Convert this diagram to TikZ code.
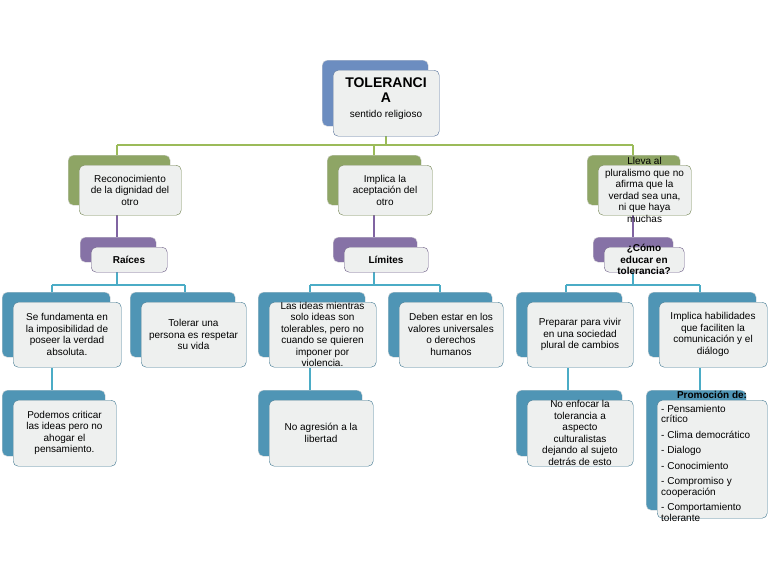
\documentclass[tikz,border=0pt]{standalone}
\usepackage{fontspec}
\setmainfont{Liberation Sans}
\begin{document}
\definecolor{gB}{HTML}{8EA565}
\definecolor{pB}{HTML}{8672A6}
\definecolor{tB}{HTML}{4F95B5}
\definecolor{rB}{HTML}{6C8DC0}
\definecolor{fr}{HTML}{EEF0EF}
\definecolor{lg}{HTML}{9BBB59}
\definecolor{lp}{HTML}{8064A2}
\definecolor{lt}{HTML}{4BACC6}
\newcommand\mybox[7]{%
 \node[back,fill=#6,minimum width=#4pt,minimum height=#5pt] (#1b) at (#2,#3) {};
 \node[front,draw=#6!80!black,minimum width=#4pt,minimum height=#5pt] (#1) at (#2+11,#3+10) {};
 \node[txt] (#1t) at (#2+11+#4/2,#3+10+#5/2) {#7};}
\begin{tikzpicture}[x=1pt,y=-1pt,
 back/.style={rounded corners=5pt,anchor=north west,draw=black!15,inner sep=0pt},
 front/.style={rounded corners=5pt,anchor=north west,fill=fr,inner sep=0pt},
 txt/.style={align=center,inner sep=0pt,font=\fontsize{10}{11.5}\selectfont},
 conn/.style={line width=1.5pt}]
\useasboundingbox[fill=white] (0,0) rectangle (768,576);
% connectors
\draw[conn,lg] (386,135) -- (386,145);
\draw[conn,lg] (117,145) -- (633,145);
\foreach \x in {117,374,633}{\draw[conn,lg] (\x,145) -- (\x,155);}
\draw[conn,lp] (117,215) -- (117,237);
\draw[conn,lp] (374,215) -- (374,237);
\draw[conn,lp] (633,215) -- (633,237);
\draw[conn,lt] (117,272) -- (117,285);
\draw[conn,lt] (374,272) -- (374,285);
\draw[conn,lt] (633,272) -- (633,285);
\draw[conn,lt] (52,285) -- (185,285);
\draw[conn,lt] (310,285) -- (440,285);
\draw[conn,lt] (566,285) -- (700,285);
\foreach \x in {52,185,310,440,566,700}{\draw[conn,lt] (\x,285) -- (\x,292);}
\foreach \x in {52,310,568,700}{\draw[conn,lt] (\x,368) -- (\x,390);}
% boxes
\mybox{root}{322}{60}{106}{66}{rB}{}
\node[txt,font=\fontsize{14}{14.5}\selectfont\bfseries] (roottitle) at (386,90) {TOLERANCI\\A};
\node[txt] (rootsub) at (386,115) {sentido religioso};
\mybox{ga}{68}{155}{102}{50}{gB}{Reconocimiento\\de la dignidad del\\otro}
\mybox{gb}{327}{155}{94}{50}{gB}{Implica la\\aceptación del\\otro}
\mybox{gc}{587}{155}{93}{50}{gB}{Lleva al\\pluralismo que no\\afirma que la\\verdad sea una,\\ni que haya\\muchas}
\mybox{pa}{80}{237}{76}{25}{pB}{\bfseries Raíces}
\mybox{pb}{333}{237}{84}{25}{pB}{\bfseries Límites}
\mybox{pc}{593}{237}{80}{25}{pB}{\bfseries ¿Cómo\\\bfseries educar en\\\bfseries tolerancia?}
\mybox{aa}{2}{292}{108}{65}{tB}{Se fundamenta en\\la imposibilidad de\\poseer la verdad\\absoluta.}
\mybox{ab}{130}{292}{105}{65}{tB}{Tolerar una\\persona es respetar\\su vida}
\mybox{ba}{258}{292}{107}{65}{tB}{Las ideas mientras\\solo ideas son\\tolerables, pero no\\cuando se quieren\\imponer por\\violencia.}
\mybox{bb}{388}{292}{104}{65}{tB}{Deben estar en los\\valores universales\\o derechos\\humanos}
\mybox{ca}{516}{292}{106}{65}{tB}{Preparar para vivir\\en una sociedad\\plural de cambios}
\mybox{cb}{648}{292}{108}{65}{tB}{Implica habilidades\\que faciliten la\\comunicación y el\\diálogo}
\mybox{ac}{2}{390}{103}{66}{tB}{Podemos criticar\\las ideas pero no\\ahogar el\\pensamiento.}
\mybox{bc}{258}{390}{104}{66}{tB}{No agresión a la\\libertad}
\mybox{cc}{516}{390}{106}{66}{tB}{No enfocar la\\tolerancia a\\aspecto\\culturalistas\\dejando al sujeto\\detrás de esto}
\node[back,fill=tB,minimum width=100pt,minimum height=120pt] (cdb) at (646,390) {};
\node[front,draw=tB!80!black,minimum width=110pt,minimum height=118pt] (cd) at (657,400) {};
\node[txt,font=\fontsize{10}{11}\selectfont\bfseries] (cdh) at (712,395) {Promoción de:};
\node[anchor=north west,align=left,inner sep=0pt,font=\fontsize{10}{10.5}\selectfont] (cdt) at (661,405) {- Pensamiento\\crítico\\[5pt]- Clima democrático\\[5pt]- Dialogo\\[5pt]- Conocimiento\\[5pt]- Compromiso y\\cooperación\\[5pt]- Comportamiento\\tolerante};
\end{tikzpicture}
\end{document}
